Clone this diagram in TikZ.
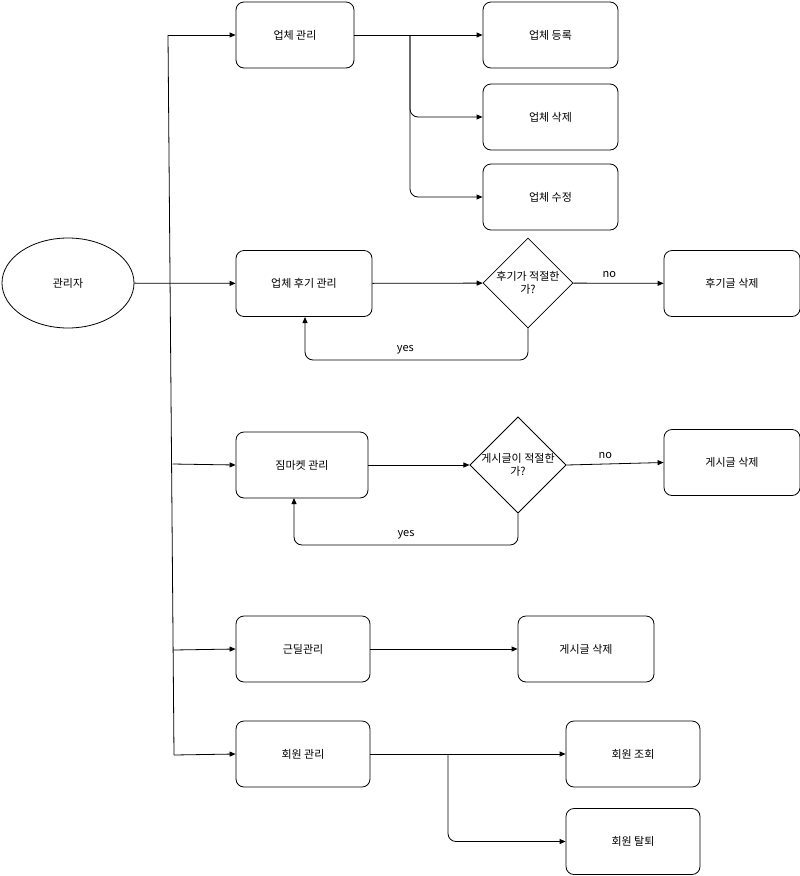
\documentclass[tikz,border=0pt]{standalone}
\usepackage{fontspec}
\setmainfont{Noto Sans CJK KR}
\usetikzlibrary{shapes.geometric,arrows.meta}
\begin{document}
\begin{tikzpicture}[x=1pt,y=-1pt,font=\fontsize{11}{13}\selectfont,
 box/.style={draw,line width=0.8pt,rounded corners=8pt,minimum width=#1,minimum height=66pt,inner sep=0pt},
 box/.default=135pt,
 dia/.style={draw,line width=0.8pt,diamond,minimum width=90pt,minimum height=90pt,inner sep=0pt,align=center},
 ar/.style={-{Triangle[length=6pt,width=5pt]},line width=0.8pt},
 ln/.style={line width=0.8pt}]
\useasboundingbox (0,0) rectangle (800,876);
\node[draw,ellipse,line width=0.8pt,minimum width=132pt,minimum height=90pt] (root) at (68,283) {관리자};
\node[box=118pt] (a) at (295,35) {업체 관리};
\node[box] (a1) at (550.5,35) {업체 등록};
\node[box] (a2) at (550.5,117) {업체 삭제};
\node[box] (a3) at (550.5,197) {업체 수정};
\node[box=136pt] (b) at (304,283.5) {업체 후기 관리};
\node[dia] (bd) at (528,283) {후기가 적절한\\가?};
\node[box=136pt] (b1) at (732,283.5) {후기글 삭제};
\node[box=132pt] (c) at (302,465) {짐마켓 관리};
\node[dia] (cd) at (518,465) {게시글이 적절한\\가?};
\node[box=136pt] (c1) at (732,462.5) {게시글 삭제};
\node[box=134pt] (d) at (303,649) {근딜관리};
\node[box=136pt] (d1) at (586,649) {게시글 삭제};
\node[box=134pt] (e) at (303,754) {회원 관리};
\node[box=134pt] (e1) at (633,754) {회원 조회};
\node[box=134pt] (e2) at (633,841.5) {회원 탈퇴};
\coordinate (t0) at (168,35);
\coordinate (t1) at (174,755);
\draw[ln] (t0) -- (t1);
\draw[ar] (t0) -- (a);
\draw[ar] (root) -- (b);
\draw[ar] (172.5,464) -- (c.west);
\draw[ar] (173.5,650) -- (d.west);
\draw[ar] (174,755) -- (e.west);
\draw[ar] (a) -- (a1);
\draw[ar,rounded corners=8pt] (410,35) |- (a2);
\draw[ar,rounded corners=8pt] (410,35) |- (a3);
\draw[ar] (b) -- (bd);
\draw[ar] (bd) -- node[above=2pt,pos=0.4]{no} (b1);
\draw[ar,rounded corners=8pt] (bd.south) -- (528,360) -- node[above=2pt,pos=0.55]{yes} (305,360) -- (305,317);
\draw[ar] (c) -- (cd);
\draw[ar] (cd.east) -- node[above=2pt,pos=0.4]{no} (c1.west);
\draw[ar,rounded corners=8pt] (cd.south) -- (518,545) -- node[above=2pt,pos=0.5]{yes} (294,545) -- (294,498);
\draw[ar] (d) -- (d1);
\draw[ar] (e) -- (e1);
\draw[ar,rounded corners=8pt] (448,754) |- (e2);
\end{tikzpicture}
\end{document}
